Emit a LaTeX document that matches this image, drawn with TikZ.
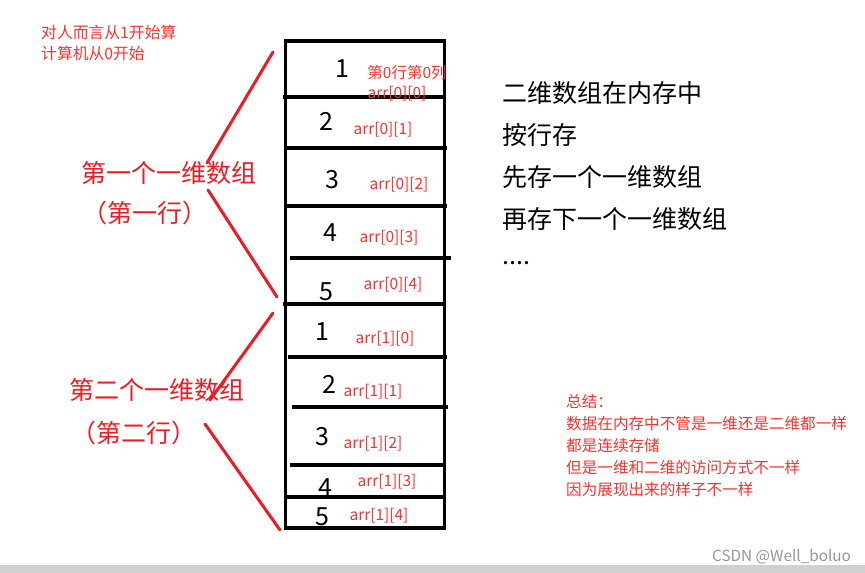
\documentclass[tikz,border=0pt]{standalone}
\usepackage{fontspec}
\setmainfont{Noto Sans CJK SC}
\definecolor{pen}{RGB}{237,28,36}
\definecolor{lbl}{RGB}{250,50,50}
\definecolor{wm}{RGB}{150,150,150}
\definecolor{bar}{RGB}{208,208,208}
\begin{document}
\begin{tikzpicture}[x=1pt,y=-1pt,
  cell/.style={line width=3.2pt,black},
  pline/.style={line width=3pt,pen,line cap=round},
  num/.style={inner sep=0pt,font=\fontsize{25}{25}\selectfont},
  idx/.style={inner sep=0pt,text=lbl,font=\fontsize{15.5}{15.5}\selectfont},
  big/.style={inner sep=0pt,text=pen,font=\fontsize{25}{25}\selectfont},
  note/.style={inner sep=0pt,anchor=west,font=\fontsize{25}{25}\selectfont},
  sum/.style={inner sep=0pt,anchor=west,text=lbl,font=\fontsize{15.6}{15.6}\selectfont},
  tip/.style={inner sep=0pt,anchor=west,text=lbl,font=\fontsize{15.8}{15.8}\selectfont}]
\fill[white] (0,0) rectangle (865,573);
\useasboundingbox (0,0) rectangle (865,573);
\fill[bar] (0,565) rectangle (865,573);
% box
\draw[cell] (285.5,41) -- (444.5,41) -- (444.5,528) -- (285.5,528) -- cycle;
\draw[cell] (283,97) -- (445,97);
\draw[cell] (286,148) -- (447,148);
\draw[cell] (286,206) -- (447,206);
\draw[cell] (290,258) -- (451,258);
\draw[cell] (283,304) -- (445,304);
\draw[cell] (288,357) -- (447,357);
\draw[cell] (292,407) -- (448,407);
\draw[cell] (290,465) -- (445,465);
\draw[cell] (285,497) -- (445,497);
% numbers
\node[num] (n01) at (342,69) {1};
\node[num] (n02) at (326,121) {2};
\node[num] (n03) at (332,180) {3};
\node[num] (n04) at (330,233) {4};
\node[num] (n05) at (326,292) {5};
\node[num] (n11) at (322,332) {1};
\node[num] (n12) at (329,384) {2};
\node[num] (n13) at (322,437) {3};
\node[num] (n14) at (325,488) {4};
\node[num] (n15) at (322,517) {5};
% index labels
\node[idx] (rc) at (407,73) {第0行第0列};
\node[idx] (a00) at (397,94) {arr[0][0]};
\node[idx] (a01) at (383,130) {arr[0][1]};
\node[idx] (a02) at (399,185) {arr[0][2]};
\node[idx] (a03) at (389,238) {arr[0][3]};
\node[idx] (a04) at (393,285) {arr[0][4]};
\node[idx] (a10) at (385,339) {arr[1][0]};
\node[idx] (a11) at (373,392) {arr[1][1]};
\node[idx] (a12) at (373,444) {arr[1][2]};
\node[idx] (a13) at (387,482) {arr[1][3]};
\node[idx] (a14) at (379,516) {arr[1][4]};
% brackets
\draw[pline] (273,52) -- (207,163);
\draw[pline] (208,190) -- (277,297);
\draw[pline] (273,313) -- (210,400);
\draw[pline] (205,424) -- (280,530);
% big labels
\node[big] (g1) at (169,173) {第一个一维数组};
\node[big] (g1b) at (145,213) {（第一行）};
\node[big] (g2) at (157,390) {第二个一维数组};
\node[big] (g2b) at (134,433) {（第二行）};
% top-left note
\node[tip] (t1) at (41,32) {对人而言从1开始算};
\node[tip] (t2) at (41,53) {计算机从0开始};
% right notes
\node[note] (r1) at (502,93) {二维数组在内存中};
\node[note] (r2) at (502,135) {按行存};
\node[note] (r3) at (502,177) {先存一个一维数组};
\node[note] (r4) at (502,219) {再存下一个一维数组};
\node[note] (r5) at (502,263) {....};
% summary
\node[sum] (s0) at (566,402) {总结：};
\node[sum] (s1) at (566,424) {数据在内存中不管是一维还是二维都一样};
\node[sum] (s2) at (566,446) {都是连续存储};
\node[sum] (s3) at (566,468) {但是一维和二维的访问方式不一样};
\node[sum] (s4) at (566,490) {因为展现出来的样子不一样};
% watermark
\node[inner sep=0pt,anchor=west,text=wm,font=\fontsize{15.3}{15.3}\selectfont] (w) at (712,557) {CSDN @Well\_boluo};
\end{tikzpicture}
\end{document}
